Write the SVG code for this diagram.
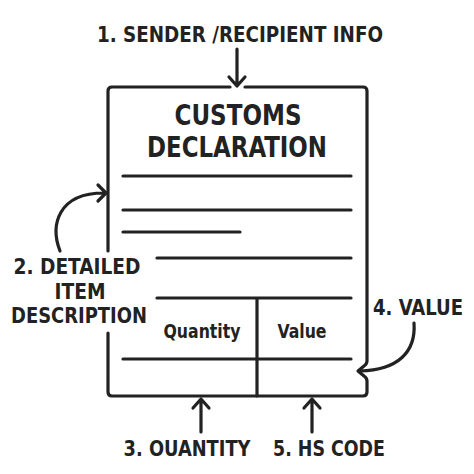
<svg xmlns="http://www.w3.org/2000/svg" width="474" height="474" viewBox="0 0 474 474">
<style>
.s{fill:none;stroke:#222;stroke-width:3.2;stroke-linecap:round;stroke-linejoin:round}
.t{font-family:"DejaVu Sans Condensed","DejaVu Sans",sans-serif;font-weight:bold;fill:#222}
.m{text-anchor:middle}
.c{font-family:"DejaVu Sans Condensed","DejaVu Sans",sans-serif;font-weight:600;fill:#222;text-anchor:middle}
</style>
<rect width="474" height="474" fill="#fff"/>
<g id="form">
<path class="s" d="M230,87 H112 Q108,87 108,91 V251"/>
<path class="s" d="M245,87 H363 Q367,87 367,91 V361 Q367,364 364,366 L358,371 L364,376 Q367,378 367,381 V392 Q367,396 363,396 H112 Q108,396 108,392 V333"/>
<text class="t m" x="238" y="125" font-size="28" textLength="127" lengthAdjust="spacingAndGlyphs">CUSTOMS</text>
<text class="t m" x="237" y="157" font-size="28" textLength="180" lengthAdjust="spacingAndGlyphs">DECLARATION</text>
<path class="s" d="M123,176 H351 M123,210 H351 M123,232 H240 M157,258 H351 M157,298 H351 M257,298 V396 M123,359 H351"/>
<text class="c" x="202" y="338" font-size="20" textLength="77" lengthAdjust="spacingAndGlyphs">Quantity</text>
<text class="c" x="302" y="338" font-size="20" textLength="49" lengthAdjust="spacingAndGlyphs">Value</text>
</g>
<g id="label1">
<text class="t m" x="240" y="42" font-size="21" textLength="286" lengthAdjust="spacingAndGlyphs">1. SENDER /RECIPIENT INFO</text>
</g>
<g id="label2">
<text class="t m" x="77" y="274" font-size="21" textLength="127" lengthAdjust="spacingAndGlyphs">2. DETAILED</text>
<text class="t m" x="80" y="299" font-size="21" textLength="51" lengthAdjust="spacingAndGlyphs">ITEM</text>
<text class="t m" x="79" y="323" font-size="21" textLength="136" lengthAdjust="spacingAndGlyphs">DESCRIPTION</text>
</g>
<g id="label4">
<text class="t m" x="418" y="315" font-size="21" textLength="90" lengthAdjust="spacingAndGlyphs">4. VALUE</text>
</g>
<g id="label3">
<text class="t m" x="187" y="456" font-size="22" textLength="127" lengthAdjust="spacingAndGlyphs">3. OUANTITY</text>
</g>
<g id="label5">
<text class="t m" x="329" y="456" font-size="22" textLength="112" lengthAdjust="spacingAndGlyphs">5. HS CODE</text>
</g>
<g id="connectors">
<path class="s" d="M237,49 V86 M229,77 L237,86 L245,77"/>
<path class="s" d="M60,251 C50,225 58,193 104,193 M98,185 L106,193 L98,201"/>
<path class="s" d="M414,323 C416,352 398,370 360,371"/>
<path class="s" d="M201,432 V399 M193,408 L201,399 L209,408"/>
<path class="s" d="M312,432 V399 M304,408 L312,399 L320,408"/>
</g>
</svg>
